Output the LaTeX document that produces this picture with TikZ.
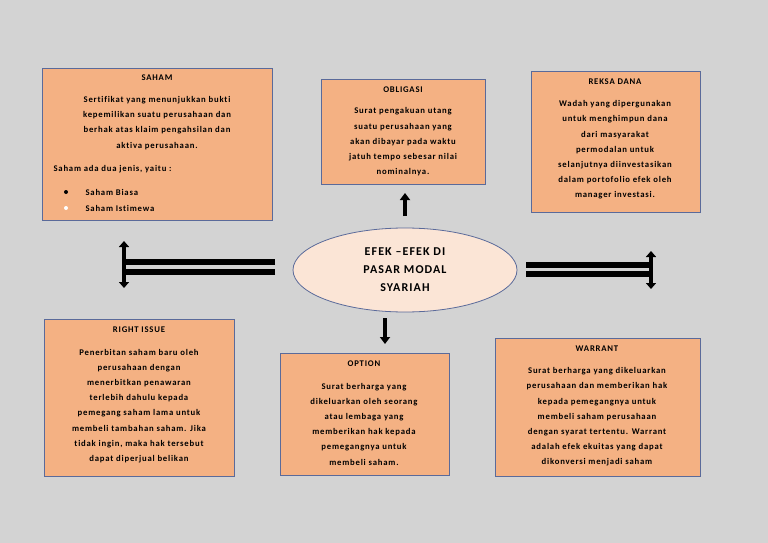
\documentclass[tikz,border=0pt]{standalone}
\usepackage{fontspec}
\setmainfont{Carlito}[LetterSpace=9,Ligatures={NoCommon}]
\usetikzlibrary{arrows.meta,shapes.geometric}
\definecolor{bg}{HTML}{D3D3D3}
\definecolor{boxf}{HTML}{F4B183}
\definecolor{boxd}{HTML}{5A6A9A}
\definecolor{ellf}{HTML}{FBE5D6}
\tikzset{
 card/.style={draw=boxd,fill=boxf,line width=0.8pt,anchor=north west,inner sep=0pt},
 txt/.style={align=center,font=\bfseries\fontsize{8.7}{15.2}\selectfont},
 ttl/.style={font=\bfseries\fontsize{8.7}{10}\selectfont},
 bar/.style={line width=5.5pt},
 dbl/.style={line width=3.6pt,{Triangle[width=10pt,length=6pt]}-{Triangle[width=10pt,length=6pt]}},
 one/.style={line width=3.4pt,-{Triangle[width=10pt,length=7pt]}}
}
\begin{document}
\begin{tikzpicture}[x=1pt,y=-1pt]
\fill[bg] (0,0) rectangle (768,543);
\useasboundingbox (0,0) rectangle (768,543);
% boxes
\node[card,minimum width=230,minimum height=152] (saham) at (42,68) {};
\node[ttl] at (157,78) {SAHAM};
\node[txt] at (157,123) {Sertifikat yang menunjukkan bukti\\kepemilikan suatu perusahaan dan\\berhak atas klaim pengahsilan dan\\aktiva perusahaan.};
\node[ttl,anchor=west] at (50,169) {Saham ada dua jenis, yaitu :};
\node[ttl,anchor=west] at (82,192) {Saham Biasa};
\node[ttl,anchor=west] at (82,208) {Saham Istimewa};
\fill (66,192) circle (2pt);
\fill[white] (66,208) circle (2pt);

\node[card,minimum width=164,minimum height=105] (obl) at (321,79) {};
\node[ttl] at (403,90) {OBLIGASI};
\node[txt] at (403,142) {Surat pengakuan utang\\suatu perusahaan yang\\akan dibayar pada waktu\\jatuh tempo sebesar nilai\\nominalnya.};

\node[card,minimum width=169,minimum height=141] (rek) at (531,71) {};
\node[ttl] at (615,82) {REKSA DANA};
\node[txt] at (615,150) {Wadah yang dipergunakan\\untuk menghimpun dana\\dari masyarakat\\permodalan untuk\\selanjutnya diinvestasikan\\dalam portofolio efek oleh\\manager investasi.};

\node[card,minimum width=190,minimum height=157] (right) at (44,319) {};
\node[ttl] at (139,330) {RIGHT ISSUE};
\node[txt] at (139,406) {Penerbitan saham baru oleh\\perusahaan dengan\\menerbitkan penawaran\\terlebih dahulu kepada\\pemegang saham lama untuk\\membeli tambahan saham. Jika\\tidak ingin, maka hak tersebut\\dapat diperjual belikan};

\node[card,minimum width=169,minimum height=122] (opt) at (280,353) {};
\node[ttl] at (364,364) {OPTION};
\node[txt] at (364,424) {Surat berharga yang\\dikeluarkan oleh seorang\\atau lembaga yang\\memberikan hak kepada\\pemegangnya untuk\\membeli saham.};

\node[card,minimum width=205,minimum height=138] (war) at (495,338) {};
\node[ttl] at (597,349) {WARRANT};
\node[txt] at (597,417) {Surat berharga yang dikeluarkan\\perusahaan dan memberikan hak\\kepada pemegangnya untuk\\membeli saham perusahaan\\dengan syarat tertentu. Warrant\\adalah efek ekuitas yang dapat\\dikonversi menjadi saham};

% center
\node[draw=boxd,fill=ellf,ellipse,line width=0.8pt,minimum width=224,minimum height=84,inner sep=0pt,align=center,font=\bfseries\fontsize{12}{18}\selectfont] (efek) at (405,270) {EFEK --EFEK DI\\PASAR MODAL\\SYARIAH};

% connectors
\coordinate (u1) at (405,216); \coordinate (u2) at (405,193);
\draw[one] (u1) -- (u2);
\coordinate (d1) at (385,318); \coordinate (d2) at (385,344);
\draw[one] (d1) -- (d2);
\coordinate (l1) at (275,262); \coordinate (l2) at (125,262);
\coordinate (l3) at (275,272); \coordinate (l4) at (125,272);
\draw[bar] (l1) -- (l2); \draw[bar] (l3) -- (l4);
\coordinate (lv1) at (124,241); \coordinate (lv2) at (124,288);
\draw[dbl] (lv1) -- (lv2);
\coordinate (r1) at (526,265); \coordinate (r2) at (651,265);
\coordinate (r3) at (526,274); \coordinate (r4) at (651,274);
\draw[bar] (r1) -- (r2); \draw[bar] (r3) -- (r4);
\coordinate (rv1) at (651,251); \coordinate (rv2) at (651,289);
\draw[dbl] (rv1) -- (rv2);
\end{tikzpicture}
\end{document}
